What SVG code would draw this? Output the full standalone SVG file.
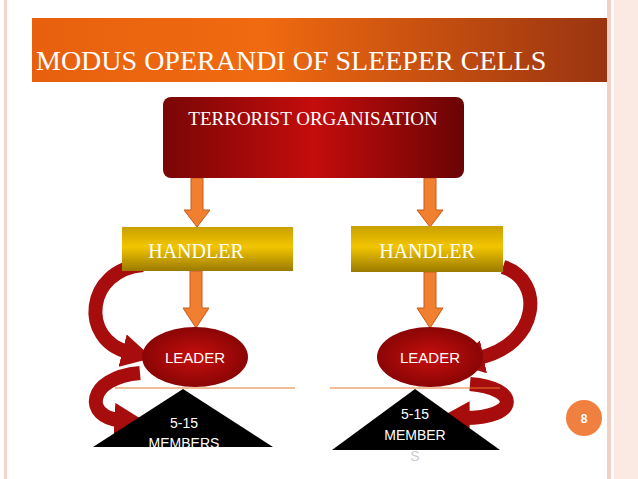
<svg xmlns="http://www.w3.org/2000/svg" width="638" height="479" viewBox="0 0 638 479">
<defs>
<linearGradient id="title" x1="0" x2="1"><stop offset="0" stop-color="#e8600e"/><stop offset="0.4" stop-color="#f06a10"/><stop offset="1" stop-color="#9a3410"/></linearGradient>
<linearGradient id="org" x1="0" x2="1"><stop offset="0" stop-color="#7a0606"/><stop offset="0.5" stop-color="#c40c0c"/><stop offset="1" stop-color="#6a0404"/></linearGradient>
<linearGradient id="gold" x1="0" x2="0" y1="0" y2="1"><stop offset="0" stop-color="#c9a000"/><stop offset="0.45" stop-color="#f2c500"/><stop offset="1" stop-color="#9a7a00"/></linearGradient>
<radialGradient id="leader"><stop offset="0" stop-color="#c80e0e"/><stop offset="1" stop-color="#8a0505"/></radialGradient>
<linearGradient id="curve" x1="0" x2="1"><stop offset="0" stop-color="#7a0808"/><stop offset="1" stop-color="#c41616"/></linearGradient>
<marker id="ah" markerWidth="2.2" markerHeight="2.4" refX="0.4" refY="1.2" orient="auto" markerUnits="strokeWidth"><path d="M0,0 L2.2,1.2 L0,2.4 Z" fill="#a80d0d"/></marker>
</defs>
<style>
.serif{font-family:"Liberation Serif","Times New Roman",serif;fill:#fff}
.sans{font-family:"Liberation Sans",Arial,sans-serif;fill:#fff}
.down{fill:#f08030;stroke:#c85a18;stroke-width:1}
.curve{fill:none;stroke:#a80d0d;stroke-width:14}
</style>
<rect width="638" height="479" fill="#fff"/>
<rect x="4" y="0" width="3" height="479" fill="#f6d6cc"/>
<rect x="607" y="0" width="4" height="479" fill="#f4cfc4"/>
<rect x="614" y="0" width="24" height="479" fill="#fbe9e4"/>
<g id="title-bar"><rect x="32" y="18" width="575" height="64" fill="url(#title)"/>
<text x="36" y="70" class="serif" font-size="28">MODUS OPERANDI OF SLEEPER CELLS</text></g>
<g id="connectors">
<polygon class="down" points="191,178 203,178 203,210 210,210 197,227 184,210 191,210"/>
<polygon class="down" points="424,178 436,178 436,210 443,210 430,227 417,210 424,210"/>
<polygon class="down" points="190,271 202,271 202,308 209,308 196,328 183,308 190,308"/>
<polygon class="down" points="424,272 436,272 436,308 443,308 430,328 417,308 424,308"/>
<path class="curve" d="M143,265 C85,270 80,340 128,352" marker-end="url(#ah)"/>
<path class="curve" d="M503,267 C545,280 540,345 478,358" marker-end="url(#ah)"/>
<path class="curve" d="M140,373 C85,378 85,418 120,420" marker-end="url(#ah)"/>
<path class="curve" d="M470,384 C520,388 520,418 464,418" marker-end="url(#ah)"/>
<line x1="115" y1="388" x2="295" y2="388" stroke="#e07a30" stroke-width="1"/>
<line x1="330" y1="388" x2="500" y2="388" stroke="#e07a30" stroke-width="1"/>
</g>
<g id="org-node"><rect x="163" y="97" width="301" height="81" rx="8" fill="url(#org)"/>
<text x="313" y="125" class="serif" font-size="19" text-anchor="middle">TERRORIST ORGANISATION</text></g>
<g id="handler-left"><rect x="122" y="227" width="171" height="44" fill="url(#gold)"/>
<text x="196" y="258" class="serif" font-size="20" text-anchor="middle">HANDLER</text></g>
<g id="handler-right"><rect x="351" y="226" width="152" height="46" fill="url(#gold)"/>
<text x="427" y="258" class="serif" font-size="20" text-anchor="middle">HANDLER</text></g>
<g id="leader-left"><ellipse cx="195" cy="357" rx="53" ry="30" fill="url(#leader)"/>
<text x="195" y="363" class="sans" font-size="15" text-anchor="middle">LEADER</text></g>
<g id="leader-right"><ellipse cx="430" cy="357" rx="53" ry="30" fill="url(#leader)"/>
<text x="430" y="363" class="sans" font-size="15" text-anchor="middle">LEADER</text></g>
<g id="members-left"><polygon points="183,389 273,447 93,447" fill="#000"/>
<text x="184" y="428" class="sans" font-size="14" text-anchor="middle">5-15</text>
<text x="184" y="448" class="sans" font-size="14" text-anchor="middle">MEMBERS</text></g>
<g id="members-right"><polygon points="415,389 500,450 332,450" fill="#000"/>
<text x="415" y="419" class="sans" font-size="14" text-anchor="middle">5-15</text>
<text x="415" y="440" class="sans" font-size="14" text-anchor="middle">MEMBER</text>
<text x="415" y="461" class="sans" font-size="14" text-anchor="middle" style="fill:#ccc">S</text></g>
<g id="page"><circle cx="584" cy="418" r="18" fill="#f08040"/>
<text x="584" y="423" class="sans" font-size="12" font-weight="bold" text-anchor="middle">8</text></g>
</svg>
